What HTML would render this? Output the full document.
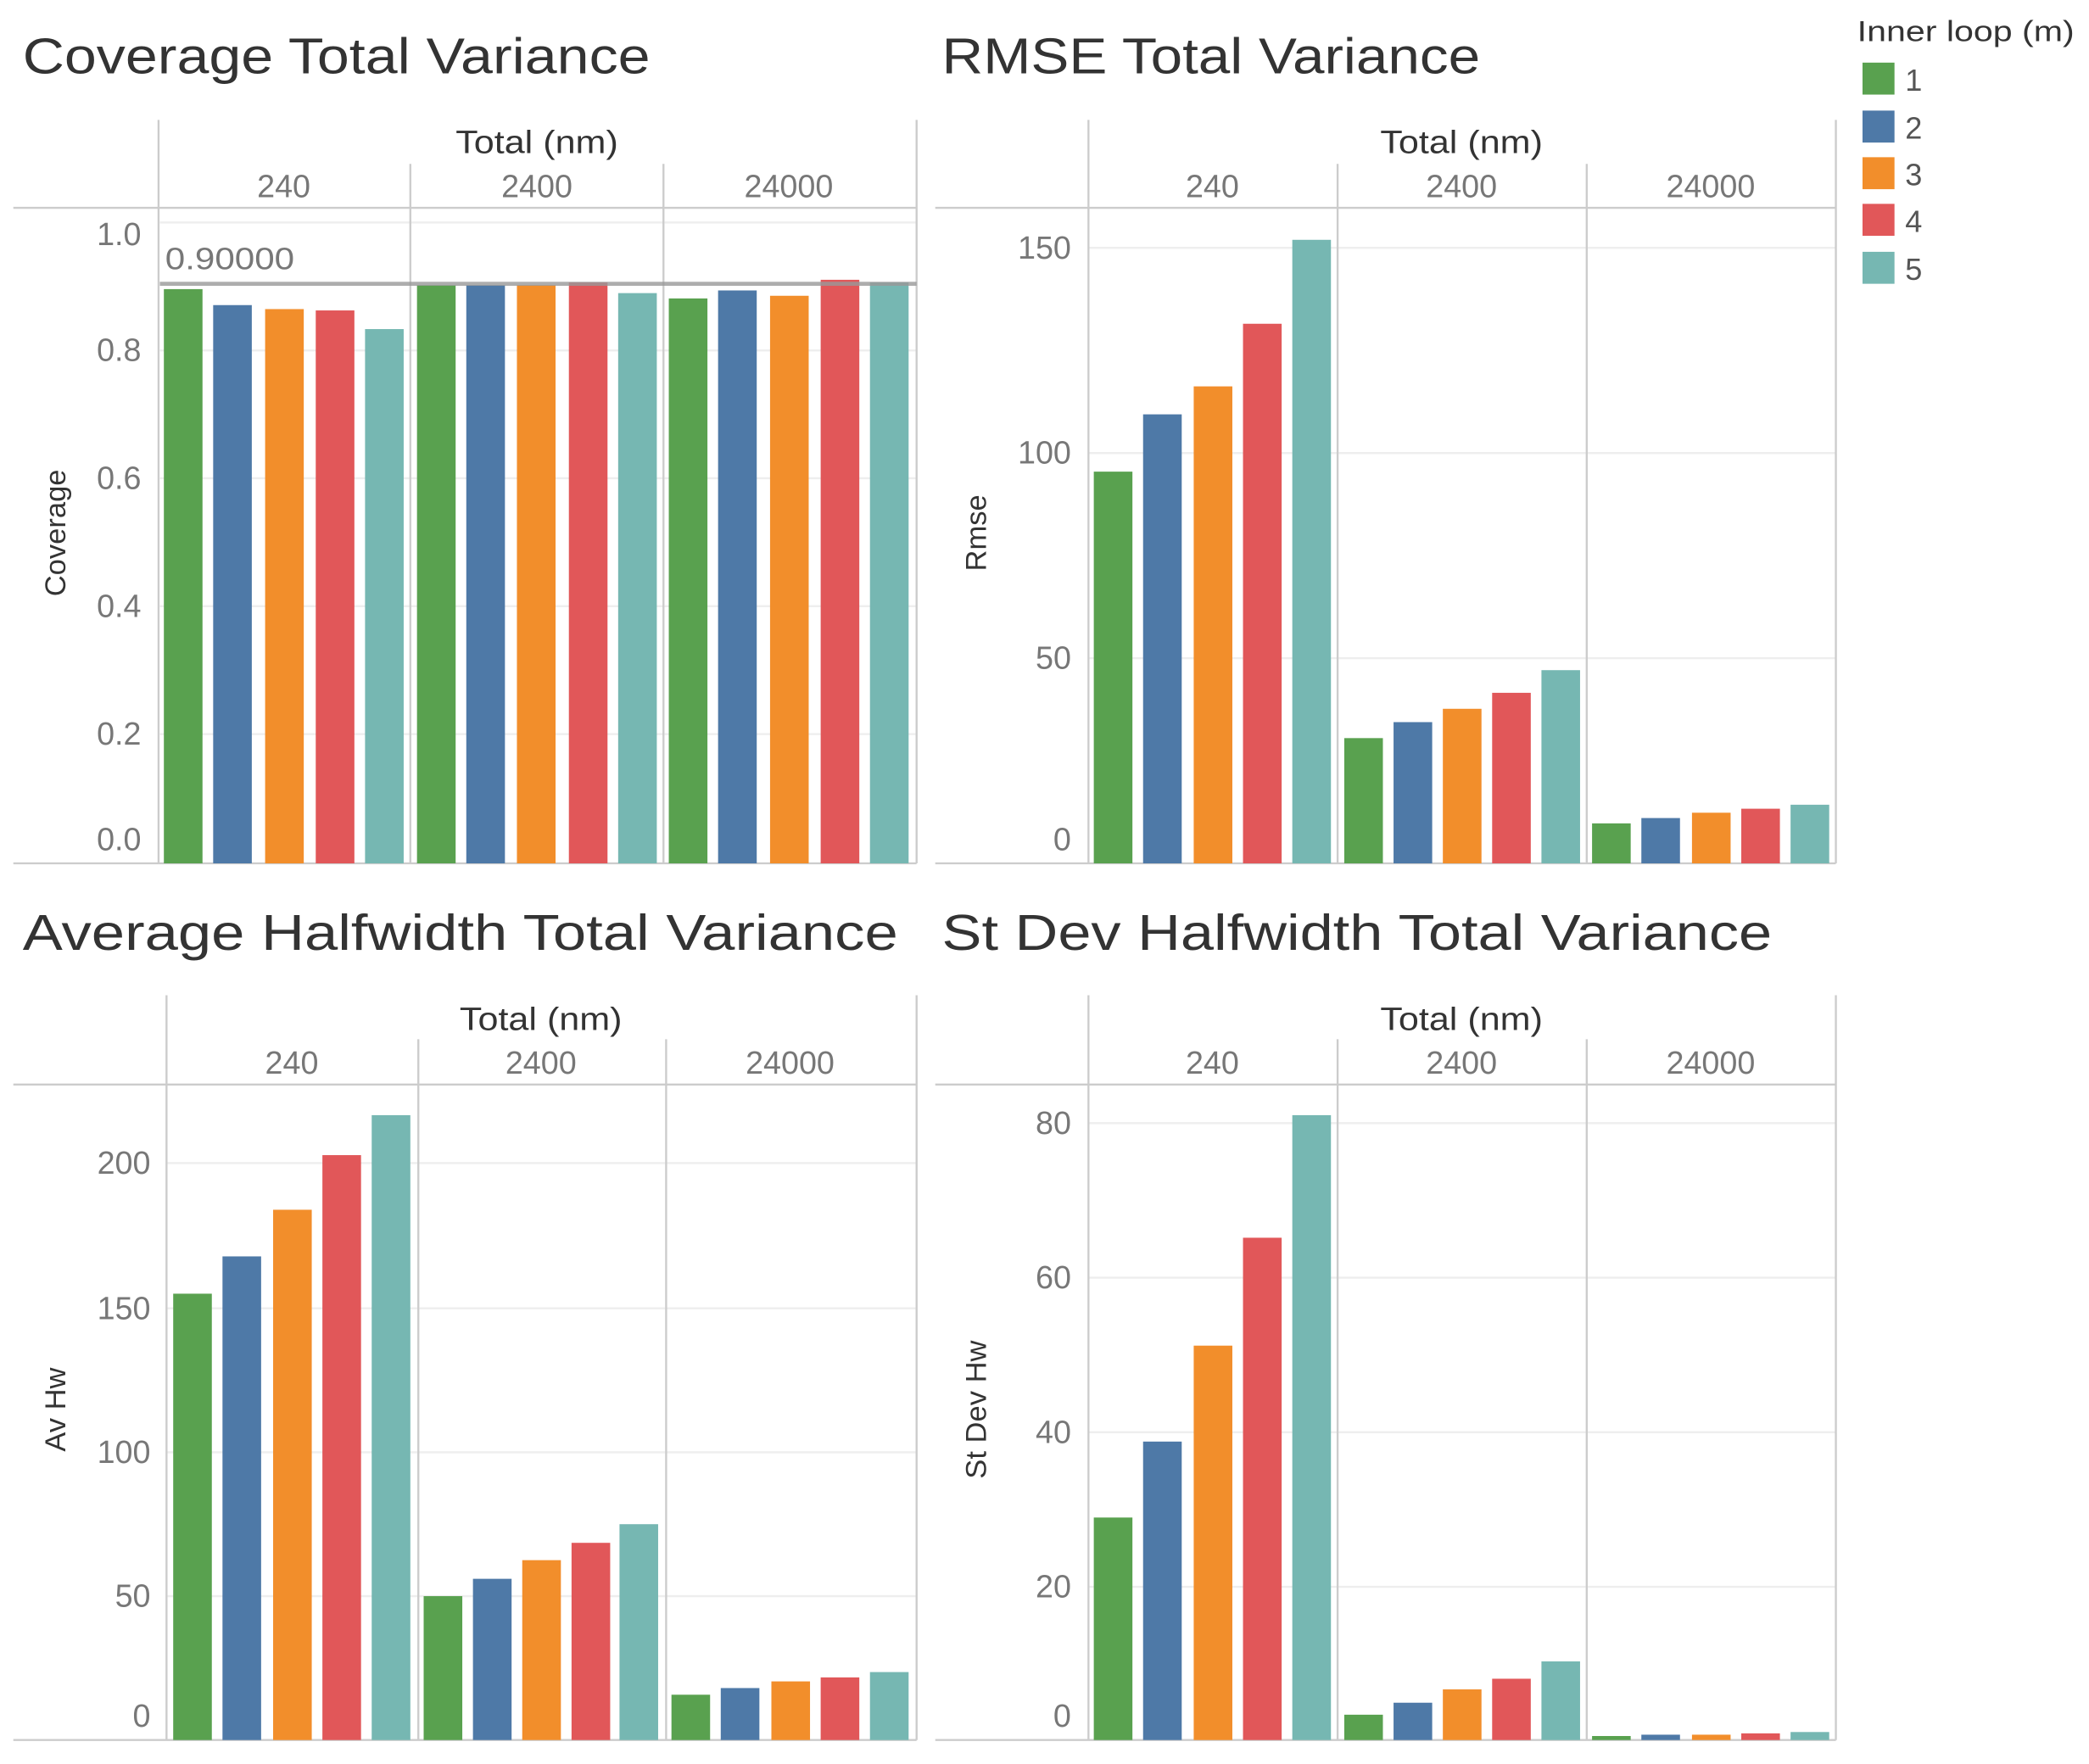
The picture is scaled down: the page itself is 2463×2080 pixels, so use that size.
<!DOCTYPE html>
<html><head><meta charset="utf-8"><style>html,body{margin:0;padding:0;background:#fff}svg{display:block}text{font-family:"Liberation Sans","DejaVu Sans",sans-serif}</style></head><body>
<svg width="2463" height="2080" viewBox="0 0 1568 1324" preserveAspectRatio="none" xmlns="http://www.w3.org/2000/svg">
<g fill="#333" font-size="38">
<text x="17" y="55" textLength="471" lengthAdjust="spacingAndGlyphs">Coverage Total Variance</text>
<text x="707" y="55" textLength="404" lengthAdjust="spacingAndGlyphs">RMSE Total Variance</text>
<text x="17" y="713" textLength="657" lengthAdjust="spacingAndGlyphs">Average Halfwidth Total Variance</text>
<text x="707" y="713" textLength="623" lengthAdjust="spacingAndGlyphs">St Dev Halfwidth Total Variance</text>
</g>
<!-- legend -->
<text x="1394" y="31" font-size="22" fill="#333" textLength="163" lengthAdjust="spacingAndGlyphs">Inner loop (m)</text>
<g font-size="23" fill="#555">
<rect x="1398" y="47" width="24" height="24" fill="#59a14f"/><text x="1430" y="68">1</text>
<rect x="1398" y="83" width="24" height="24" fill="#4e79a7"/><text x="1430" y="104">2</text>
<rect x="1398" y="118" width="24" height="24" fill="#f28e2b"/><text x="1430" y="139">3</text>
<rect x="1398" y="153" width="24" height="24" fill="#e15759"/><text x="1430" y="174">4</text>
<rect x="1398" y="189" width="24" height="24" fill="#76b7b2"/><text x="1430" y="210">5</text>
</g>
<g id="panels" stroke-width="1.5">
<!-- Panel 1 -->
<g stroke="#eee"><line x1="120" y1="167" x2="688" y2="167"/><line x1="120" y1="263" x2="688" y2="263"/><line x1="120" y1="359" x2="688" y2="359"/><line x1="120" y1="455" x2="688" y2="455"/><line x1="120" y1="551" x2="688" y2="551"/></g>
<g stroke="#ccc"><line x1="119" y1="90" x2="119" y2="648"/><line x1="688" y1="90" x2="688" y2="648"/><line x1="308" y1="123" x2="308" y2="648"/><line x1="498" y1="123" x2="498" y2="648"/><line x1="10" y1="156" x2="688" y2="156"/><line x1="10" y1="648" x2="688" y2="648"/></g>
<g fill="#59a14f"><rect x="123" y="217" width="29" height="431"/><rect x="313" y="214" width="29" height="434"/><rect x="502" y="224" width="29" height="424"/></g>
<g fill="#4e79a7"><rect x="160" y="229" width="29" height="419"/><rect x="350" y="214" width="29" height="434"/><rect x="539" y="218" width="29" height="430"/></g>
<g fill="#f28e2b"><rect x="199" y="232" width="29" height="416"/><rect x="388" y="214" width="29" height="434"/><rect x="578" y="222" width="29" height="426"/></g>
<g fill="#e15759"><rect x="237" y="233" width="29" height="415"/><rect x="427" y="212" width="29" height="436"/><rect x="616" y="210" width="29" height="438"/></g>
<g fill="#76b7b2"><rect x="274" y="247" width="29" height="401"/><rect x="464" y="220" width="29" height="428"/><rect x="653" y="212" width="29" height="436"/></g>
<line x1="120" y1="213" x2="688" y2="213" stroke="#999" stroke-width="3" opacity="0.8"/>
<text x="124" y="202" font-size="23" fill="#777" textLength="97" lengthAdjust="spacingAndGlyphs">0.90000</text>
<g font-size="24" fill="#777" text-anchor="end"><text x="106" y="184">1.0</text><text x="106" y="271">0.8</text><text x="106" y="367">0.6</text><text x="106" y="463">0.4</text><text x="106" y="559">0.2</text><text x="106" y="638">0.0</text></g>
<g font-size="24" fill="#777" text-anchor="middle"><text x="213" y="148">240</text><text x="403" y="148">2400</text><text x="592" y="148">24000</text></g>
<text x="403" y="115" font-size="24" fill="#333" text-anchor="middle" textLength="122" lengthAdjust="spacingAndGlyphs">Total (nm)</text>
<text transform="translate(49,400) rotate(-90)" font-size="22" fill="#333" text-anchor="middle">Coverage</text>

<!-- Panel 2 -->
<g stroke="#eee"><line x1="817" y1="186" x2="1378" y2="186"/><line x1="817" y1="340" x2="1378" y2="340"/><line x1="817" y1="494" x2="1378" y2="494"/></g>
<g stroke="#ccc"><line x1="817" y1="90" x2="817" y2="648"/><line x1="1378" y1="90" x2="1378" y2="648"/><line x1="1004" y1="123" x2="1004" y2="648"/><line x1="1191" y1="123" x2="1191" y2="648"/><line x1="702" y1="156" x2="1378" y2="156"/><line x1="702" y1="648" x2="1378" y2="648"/></g>
<g fill="#59a14f"><rect x="821" y="354" width="29" height="294"/><rect x="1009" y="554" width="29" height="94"/><rect x="1195" y="618" width="29" height="30"/></g>
<g fill="#4e79a7"><rect x="858" y="311" width="29" height="337"/><rect x="1046" y="542" width="29" height="106"/><rect x="1232" y="614" width="29" height="34"/></g>
<g fill="#f28e2b"><rect x="896" y="290" width="29" height="358"/><rect x="1083" y="532" width="29" height="116"/><rect x="1270" y="610" width="29" height="38"/></g>
<g fill="#e15759"><rect x="933" y="243" width="29" height="405"/><rect x="1120" y="520" width="29" height="128"/><rect x="1307" y="607" width="29" height="41"/></g>
<g fill="#76b7b2"><rect x="970" y="180" width="29" height="468"/><rect x="1157" y="503" width="29" height="145"/><rect x="1344" y="604" width="29" height="44"/></g>
<g font-size="24" fill="#777" text-anchor="end"><text x="804" y="194">150</text><text x="804" y="348">100</text><text x="804" y="502">50</text><text x="804" y="638">0</text></g>
<g font-size="24" fill="#777" text-anchor="middle"><text x="910" y="148">240</text><text x="1097" y="148">2400</text><text x="1284" y="148">24000</text></g>
<text x="1097" y="115" font-size="24" fill="#333" text-anchor="middle" textLength="122" lengthAdjust="spacingAndGlyphs">Total (nm)</text>
<text transform="translate(740,400) rotate(-90)" font-size="22" fill="#333" text-anchor="middle">Rmse</text>

<!-- Panel 3 -->
<g stroke="#eee"><line x1="125" y1="873" x2="688" y2="873"/><line x1="125" y1="982" x2="688" y2="982"/><line x1="125" y1="1090" x2="688" y2="1090"/><line x1="125" y1="1198" x2="688" y2="1198"/></g>
<g stroke="#ccc"><line x1="125" y1="747" x2="125" y2="1306"/><line x1="688" y1="747" x2="688" y2="1306"/><line x1="314" y1="780" x2="314" y2="1306"/><line x1="500" y1="780" x2="500" y2="1306"/><line x1="10" y1="814" x2="688" y2="814"/><line x1="10" y1="1306" x2="688" y2="1306"/></g>
<g fill="#59a14f"><rect x="130" y="971" width="29" height="335"/><rect x="318" y="1198" width="29" height="108"/><rect x="504" y="1272" width="29" height="34"/></g>
<g fill="#4e79a7"><rect x="167" y="943" width="29" height="363"/><rect x="355" y="1185" width="29" height="121"/><rect x="541" y="1267" width="29" height="39"/></g>
<g fill="#f28e2b"><rect x="205" y="908" width="29" height="398"/><rect x="392" y="1171" width="29" height="135"/><rect x="579" y="1262" width="29" height="44"/></g>
<g fill="#e15759"><rect x="242" y="867" width="29" height="439"/><rect x="429" y="1158" width="29" height="148"/><rect x="616" y="1259" width="29" height="47"/></g>
<g fill="#76b7b2"><rect x="279" y="837" width="29" height="469"/><rect x="465" y="1144" width="29" height="162"/><rect x="653" y="1255" width="29" height="51"/></g>
<g font-size="24" fill="#777" text-anchor="end"><text x="113" y="881">200</text><text x="113" y="990">150</text><text x="113" y="1098">100</text><text x="113" y="1206">50</text><text x="113" y="1296">0</text></g>
<g font-size="24" fill="#777" text-anchor="middle"><text x="219" y="806">240</text><text x="406" y="806">2400</text><text x="593" y="806">24000</text></g>
<text x="406" y="773" font-size="24" fill="#333" text-anchor="middle" textLength="122" lengthAdjust="spacingAndGlyphs">Total (nm)</text>
<text transform="translate(49,1058) rotate(-90)" font-size="22" fill="#333" text-anchor="middle">Av Hw</text>

<!-- Panel 4 -->
<g stroke="#eee"><line x1="817" y1="843" x2="1378" y2="843"/><line x1="817" y1="959" x2="1378" y2="959"/><line x1="817" y1="1075" x2="1378" y2="1075"/><line x1="817" y1="1191" x2="1378" y2="1191"/></g>
<g stroke="#ccc"><line x1="817" y1="747" x2="817" y2="1306"/><line x1="1378" y1="747" x2="1378" y2="1306"/><line x1="1004" y1="780" x2="1004" y2="1306"/><line x1="1191" y1="780" x2="1191" y2="1306"/><line x1="702" y1="814" x2="1378" y2="814"/><line x1="702" y1="1306" x2="1378" y2="1306"/></g>
<g fill="#59a14f"><rect x="821" y="1139" width="29" height="167"/><rect x="1009" y="1287" width="29" height="19"/><rect x="1195" y="1303" width="29" height="3"/></g>
<g fill="#4e79a7"><rect x="858" y="1082" width="29" height="224"/><rect x="1046" y="1278" width="29" height="28"/><rect x="1232" y="1302" width="29" height="4"/></g>
<g fill="#f28e2b"><rect x="896" y="1010" width="29" height="296"/><rect x="1083" y="1268" width="29" height="38"/><rect x="1270" y="1302" width="29" height="4"/></g>
<g fill="#e15759"><rect x="933" y="929" width="29" height="377"/><rect x="1120" y="1260" width="29" height="46"/><rect x="1307" y="1301" width="29" height="5"/></g>
<g fill="#76b7b2"><rect x="970" y="837" width="29" height="469"/><rect x="1157" y="1247" width="29" height="59"/><rect x="1344" y="1300" width="29" height="6"/></g>
<g font-size="24" fill="#777" text-anchor="end"><text x="804" y="851">80</text><text x="804" y="967">60</text><text x="804" y="1083">40</text><text x="804" y="1199">20</text><text x="804" y="1296">0</text></g>
<g font-size="24" fill="#777" text-anchor="middle"><text x="910" y="806">240</text><text x="1097" y="806">2400</text><text x="1284" y="806">24000</text></g>
<text x="1097" y="773" font-size="24" fill="#333" text-anchor="middle" textLength="122" lengthAdjust="spacingAndGlyphs">Total (nm)</text>
<text transform="translate(740,1058) rotate(-90)" font-size="22" fill="#333" text-anchor="middle">St Dev Hw</text>
</g>
</svg>
</body></html>
